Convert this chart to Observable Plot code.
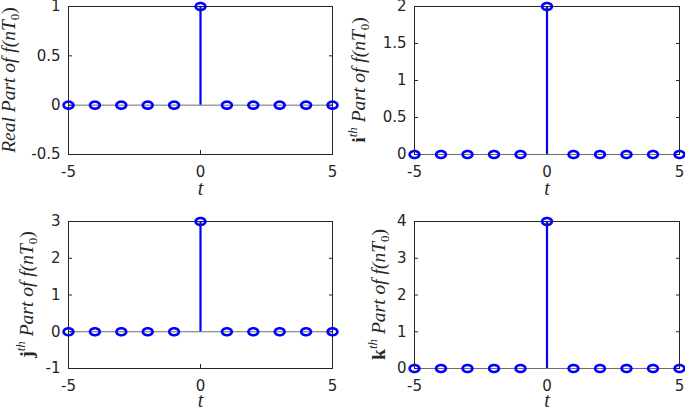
<!DOCTYPE html>
<html><head><meta charset="utf-8">
<script src="https://cdn.jsdelivr.net/npm/d3@7"></script>
<script src="https://cdn.jsdelivr.net/npm/@observablehq/plot@0.6"></script>
<style>
body{margin:0;background:#fff}
#chart{position:relative;width:685px;height:407px;overflow:hidden;background:#fff}
#chart svg{position:absolute;overflow:visible}
</style></head><body><div id="chart"></div>
<script>
// ---- data ----
const t = [-5, -4, -3, -2, -1, 0, 1, 2, 3, 4, 5];
const realPart = [0, 0, 0, 0, 0, 1, 0, 0, 0, 0, 0];
const iPart    = [0, 0, 0, 0, 0, 2, 0, 0, 0, 0, 0];
const jPart    = [0, 0, 0, 0, 0, 3, 0, 0, 0, 0, 0];
const kPart    = [0, 0, 0, 0, 0, 4, 0, 0, 0, 0, 0];
const xTicks = [-5, 0, 5];
const xDomain = [-5, 5];
const realTicks = [-0.5, 0, 0.5, 1];
const iTicks = [0, 0.5, 1, 1.5, 2];
const jTicks = [-1, 0, 1, 2, 3];
const kTicks = [0, 1, 2, 3, 4];
const realDomain = [-0.5, 1];
const iDomain = [0, 2];
const jDomain = [-1, 3];
const kDomain = [0, 4];
const baseline = 0;
const xLabel = "t";
const realLabel = [{s: "Real Part of f(nT"}, {s: "0", sub: true}, {s: ")"}];
const iLabel = [{s: "i", bold: true}, {s: "th", sup: true}, {s: " Part of f(nT"}, {s: "0", sub: true}, {s: ")"}];
const jLabel = [{s: "j", bold: true}, {s: "th", sup: true}, {s: " Part of f(nT"}, {s: "0", sub: true}, {s: ")"}];
const kLabel = [{s: "k", bold: true}, {s: "th", sup: true}, {s: " Part of f(nT"}, {s: "0", sub: true}, {s: ")"}];

// ---- layout ----
const panels = [
  {values: realPart, ticks: realTicks, domain: realDomain, label: realLabel,
   left: 0, top: 0, w: 342, h: 203, ml: 68, mr: 10, mt: 6, mb: 49, lx: 15, tdy: 40},
  {values: iPart, ticks: iTicks, domain: iDomain, label: iLabel,
   left: 342, top: 0, w: 343, h: 203, ml: 72, mr: 6, mt: 6, mb: 49, lx: 23, tdy: 40},
  {values: jPart, ticks: jTicks, domain: jDomain, label: jLabel,
   left: 0, top: 203, w: 342, h: 204, ml: 68, mr: 10, mt: 18, mb: 39, lx: 33, tdy: 38},
  {values: kPart, ticks: kTicks, domain: kDomain, label: kLabel,
   left: 342, top: 203, w: 343, h: 204, ml: 72, mr: 6, mt: 18, mb: 39, lx: 43, tdy: 38}
];

const blue = "#0000ff";
const axisColor = "#262626";
const serif = "'Liberation Serif', 'DejaVu Serif', serif";

// ellipse-shaped open marker (reference image is horizontally stretched)
const ellipse = {
  draw(ctx, size) {
    const r = Math.sqrt(size / Math.PI);
    const rx = r * 1.4, ry = r, n = 40;
    for (let i = 0; i <= n; ++i) {
      const a = 2 * Math.PI * i / n;
      const x = rx * Math.cos(a), y = ry * Math.sin(a);
      if (i === 0) ctx.moveTo(x, y); else ctx.lineTo(x, y);
    }
    ctx.closePath();
  }
};

const fmt = d => String(d);
const chart = document.getElementById("chart");

for (const p of panels) {
  const data = t.map((x, i) => ({t: x, v: p.values[i]}));
  const svg = Plot.plot({
    width: p.w, height: p.h,
    marginLeft: p.ml, marginRight: p.mr, marginTop: p.mt, marginBottom: p.mb,
    style: {fontFamily: "'DejaVu Sans', sans-serif", fontSize: "15px", color: axisColor, background: "transparent", overflow: "visible"},
    x: {domain: xDomain},
    y: {domain: p.domain},
    marks: [
      Plot.frame({stroke: axisColor, strokeWidth: 1}),
      Plot.ruleY([baseline], {stroke: "#6e6e6e", strokeWidth: 1}),
      Plot.ruleX(data, {x: "t", y1: baseline, y2: "v", stroke: blue, strokeWidth: 2.2}),
      Plot.dot(data, {x: "t", y: "v", symbol: ellipse, r: 3.5, stroke: blue, strokeWidth: 2.6, fill: "none"}),
      Plot.axisX({ticks: xTicks, anchor: "bottom", tickSize: -4, tickPadding: 16, tickFormat: fmt, label: null, stroke: axisColor}),
      Plot.axisX({ticks: xTicks, anchor: "top", tickSize: -4, fill: "none", label: null, stroke: axisColor}),
      Plot.axisY({ticks: p.ticks, anchor: "left", tickSize: -4, tickPadding: 12, tickFormat: fmt, label: null, stroke: axisColor}),
      Plot.axisY({ticks: p.ticks, anchor: "right", tickSize: -4, fill: "none", label: null, stroke: axisColor}),
      Plot.text([xLabel], {text: d => d, frameAnchor: "bottom", dy: p.tdy, fontFamily: serif, fontStyle: "italic", fontSize: 20, fill: axisColor})
    ]
  });
  svg.style.left = p.left + "px";
  svg.style.top = p.top + "px";
  // y-axis label with super/subscripts
  const ih = p.h - p.mt - p.mb;
  const txt = d3.select(svg).append("text")
    .attr("transform", `translate(${p.lx},${p.mt + ih / 2}) rotate(-90)`)
    .attr("text-anchor", "middle")
    .attr("font-family", serif)
    .attr("font-style", "italic")
    .attr("font-size", 19.5)
    .attr("fill", axisColor);
  let shift = 0;
  for (const seg of p.label) {
    const target = seg.sup ? -8 : seg.sub ? 4 : 0;
    const ts = txt.append("tspan").text(seg.s).attr("dy", target - shift);
    shift = target;
    if (seg.sup || seg.sub) ts.attr("font-size", 13);
    if (seg.sub) ts.attr("font-style", "normal");
    if (seg.bold) ts.attr("font-weight", "bold").attr("font-style", "normal");
    if (seg.s === ")") ts.attr("font-style", "normal");
  }
  chart.appendChild(svg);
}
</script></body></html>
